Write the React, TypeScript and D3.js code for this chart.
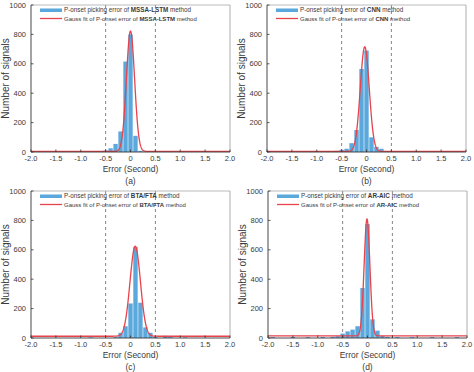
import React from "react";
import * as d3 from "d3";

// ---- data ----
const methods = ["MSSA-LSTM", "CNN", "BTA/FTA", "AR-AIC"];
const panelLabels = ["(a)", "(b)", "(c)", "(d)"];
const xTicks = [-2.0, -1.5, -1.0, -0.5, 0, 0.5, 1.0, 1.5, 2.0];
const xTickLabels = ["-2.0", "-1.5", "-1.0", "-0.5", "0", "0.5", "1.0", "1.5", "2.0"];
const yTicks = [0, 200, 400, 600, 800, 1000];
const thresholds = [-0.5, 0.5];

const binsA = [-1.8, -1.3, -0.7, -0.6, -0.5, -0.4, -0.3, -0.2, -0.1, 0.0, 0.1, 0.2, 0.3, 0.6, 1.2];
const countsA = [3, 3, 4, 6, 10, 25, 55, 140, 615, 800, 110, 8, 3, 3, 2];
const binsB = [-1.6, -0.7, -0.6, -0.5, -0.4, -0.3, -0.2, -0.1, 0.0, 0.1, 0.2, 0.3, 0.4, 0.7];
const countsB = [3, 5, 8, 15, 22, 60, 150, 565, 690, 100, 35, 22, 6, 3];
const binsC = [-0.8, -0.3, -0.2, -0.1, 0.0, 0.1, 0.2, 0.3, 0.4, 0.5, 0.7, 0.8, 1.1];
const countsC = [4, 6, 35, 80, 235, 620, 240, 72, 35, 8, 15, 6, 4];
const binsD = [-1.9, -1.5, -1.2, -0.9, -0.7, -0.6, -0.5, -0.4, -0.3, -0.2, -0.1, 0.0, 0.1, 0.2, 0.3, 0.4, 0.6, 0.9, 1.3, 1.8];
const countsD = [6, 7, 6, 7, 8, 12, 30, 45, 57, 80, 340, 775, 127, 50, 15, 8, 6, 6, 6, 6];

// Gauss fit parameters: [y0, A, xc, w]
const gaussA = [4, 818, 0.0, 0.082];
const gaussB = [4, 712, -0.035, 0.09];
const gaussC = [12, 612, 0.095, 0.105];
const gaussD = [14, 795, -0.01, 0.058];

const binsAll = [binsA, binsB, binsC, binsD];
const countsAll = [countsA, countsB, countsC, countsD];
const gaussAll = [gaussA, gaussB, gaussC, gaussD];

const BAR = "#5ba8dc";
const RED = "#e8434c";
const INK = "#3a3a3a";
const FONT = "'Liberation Sans', Arial, sans-serif";

const frames = [
  { left: 31, right: 230, top: 5, bottom: 152 },
  { left: 267, right: 466, top: 5, bottom: 152 },
  { left: 31, right: 230, top: 191, bottom: 338 },
  { left: 268, right: 467, top: 191, bottom: 338 },
];

function Panel({ idx }: { idx: number }) {
  const f = frames[idx];
  const x = d3.scaleLinear().domain([-2, 2]).range([f.left, f.right]);
  const y = d3.scaleLinear().domain([0, 1000]).range([f.bottom, f.top]);
  const bins = binsAll[idx];
  const counts = countsAll[idx];
  const [y0, A, xc, w] = gaussAll[idx];
  const bw = x(0.1) - x(0);
  const xs = d3.range(-2, 2.0001, 0.005);
  const line = d3
    .line<number>()
    .x((d) => x(d))
    .y((d) => y(y0 + A * Math.exp(-((d - xc) ** 2) / (2 * w * w))));
  const cx = (f.left + f.right) / 2;
  const m = methods[idx];
  return (
    <g>
      {bins.map((b, i) => (
        <rect
          key={i}
          x={x(b) - bw / 2 + 0.3}
          y={y(counts[i])}
          width={bw - 0.6}
          height={f.bottom - y(counts[i])}
          fill={BAR}
        />
      ))}
      {thresholds.map((t) => (
        <line
          key={t}
          x1={x(t)}
          x2={x(t)}
          y1={f.top}
          y2={f.bottom}
          stroke="#666"
          strokeWidth={0.8}
          strokeDasharray="3,3"
        />
      ))}
      <path d={line(xs) || ""} fill="none" stroke={RED} strokeWidth={1.3} />
      <line x1={f.left} x2={f.right} y1={f.top} y2={f.top} stroke="#aaa" strokeWidth={0.8} />
      <line x1={f.right} x2={f.right} y1={f.top} y2={f.bottom} stroke="#999" strokeWidth={0.8} />
      <line x1={f.left} x2={f.left} y1={f.top} y2={f.bottom} stroke="#333" strokeWidth={0.9} />
      <line x1={f.left} x2={f.right} y1={f.bottom} y2={f.bottom} stroke="#333" strokeWidth={0.9} />
      {xTicks.map((t, i) => (
        <g key={t}>
          <line x1={x(t)} x2={x(t)} y1={f.bottom} y2={f.bottom - 2.5} stroke="#333" strokeWidth={0.8} />
          <text x={x(t)} y={f.bottom + 9} fontSize={7.5} textAnchor="middle" fill={INK} fontFamily={FONT}>
            {xTickLabels[i]}
          </text>
        </g>
      ))}
      {yTicks.map((t) => (
        <g key={t}>
          <line x1={f.left} x2={f.left + 2.5} y1={y(t)} y2={y(t)} stroke="#333" strokeWidth={0.8} />
          <text x={f.left - 5} y={y(t) + 2.6} fontSize={7.5} textAnchor="end" fill={INK} fontFamily={FONT}>
            {t}
          </text>
        </g>
      ))}
      <text x={cx} y={f.bottom + 20} fontSize={8.5} textAnchor="middle" fill={INK} fontFamily={FONT}>
        Error (Second)
      </text>
      <text x={cx} y={f.bottom + 32} fontSize={8.5} textAnchor="middle" fill={INK} fontFamily={FONT}>
        {panelLabels[idx]}
      </text>
      <text
        transform={`translate(${f.left - 22},${(f.top + f.bottom) / 2}) rotate(-90)`}
        fontSize={10}
        textAnchor="middle"
        fill={INK}
        fontFamily={FONT}
      >
        Number of signals
      </text>
      <rect x={f.left + 9} y={f.top + 3.5} width={22} height={3.5} fill={BAR} />
      <text x={f.left + 33} y={f.top + 7.4} fontSize={6.3} fill={INK} fontFamily={FONT}>
        P-onset picking error of <tspan fontWeight="bold">{m}</tspan> method
      </text>
      <line x1={f.left + 9} x2={f.left + 31} y1={f.top + 13.5} y2={f.top + 13.5} stroke={RED} strokeWidth={1.3} />
      <text x={f.left + 33} y={f.top + 15.7} fontSize={6} fill={INK} fontFamily={FONT}>
        Gauss fit of P-onset error of <tspan fontWeight="bold">{m}</tspan> method
      </text>
    </g>
  );
}

export default function App() {
  return (
    <svg width={474} height={372} style={{ position: "absolute", left: 0, top: 0, background: "#fff" }}>
      {[0, 1, 2, 3].map((i) => (
        <Panel key={i} idx={i} />
      ))}
    </svg>
  );
}
